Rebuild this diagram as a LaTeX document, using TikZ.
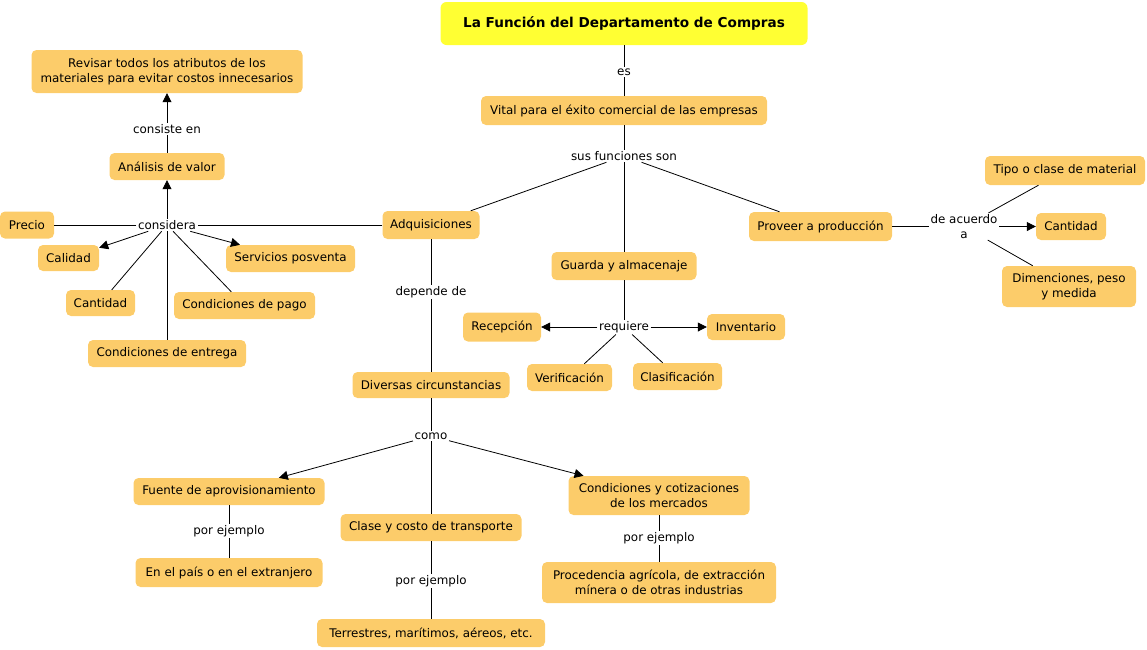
\documentclass[tikz,border=0pt]{standalone}
\usepackage{fontspec}
\setmainfont{DejaVu Sans}
\usetikzlibrary{arrows.meta}
\definecolor{boxfill}{RGB}{252,204,106}
\definecolor{titlefill}{RGB}{255,255,51}

\begin{document}
\begin{tikzpicture}[x=1pt, y=-1pt,
  concept/.style={rectangle, fill=boxfill, rounded corners=5pt, align=center,
    inner sep=0pt, font=\fontsize{11.9}{14.5}\selectfont},
  link/.style={rectangle, inner sep=1.5pt, align=center, font=\fontsize{11.9}{14.5}\selectfont},
  ln/.style={line width=0.8pt, draw=black},
  arr/.style={ln, -{Triangle[length=9pt,width=9pt]}}
]
\useasboundingbox (0,0) rectangle (1147,649);

% centre
\node[concept, fill=titlefill, rounded corners=6pt, minimum width=367, minimum height=43,
  font=\bfseries\fontsize{13.6}{16}\selectfont] (title) at (624,23.5) {La Función del Departamento de Compras};
\node[link] (es) at (624,72) {es};
\node[concept, minimum width=286, minimum height=29] (vital) at (624,110.5) {Vital para el éxito comercial de las empresas};
\node[link] (funciones) at (624,156) {sus funciones son};

\node[concept, minimum width=97, minimum height=28] (adq) at (431,225) {Adquisiciones};
\node[concept, minimum width=145, minimum height=28] (guarda) at (624,266) {Guarda y almacenaje};
\node[concept, minimum width=143, minimum height=29] (proveer) at (820.5,226.5) {Proveer a producción};

% proveer a produccion
\node[link] (acuerdo) at (964,226.5) {de acuerdo\\a};
\node[concept, minimum width=160, minimum height=29] (tipo) at (1065,170.5) {Tipo o clase de material};
\node[concept, minimum width=70, minimum height=27] (cantb) at (1071,226.5) {Cantidad};
\node[concept, minimum width=134, minimum height=41] (dimen) at (1069,286.5) {Dimenciones, peso\\y medida};

% guarda y almacenaje
\node[link] (requiere) at (624,327) {requiere};
\node[concept, minimum width=78, minimum height=29] (recep) at (502,327) {Recepción};
\node[concept, minimum width=78, minimum height=26] (invent) at (746,327) {Inventario};
\node[concept, minimum width=85, minimum height=27] (verif) at (569.5,377.5) {Verificación};
\node[concept, minimum width=89, minimum height=27] (clasif) at (677.5,376.5) {Clasificación};

% adquisiciones
\node[link] (depende) at (431,292) {depende de};
\node[concept, minimum width=157, minimum height=26] (diversas) at (431,385) {Diversas circunstancias};
\node[link] (como) at (431,436) {como};
\node[concept, minimum width=191, minimum height=27] (fuente) at (229,491.5) {Fuente de aprovisionamiento};
\node[link] (ejA) at (229,531) {por ejemplo};
\node[concept, minimum width=187, minimum height=29] (pais) at (229,572.5) {En el país o en el extranjero};
\node[concept, minimum width=181, minimum height=27] (clase) at (431,527.5) {Clase y costo de transporte};
\node[link] (ejB) at (431,581) {por ejemplo};
\node[concept, minimum width=228, minimum height=28] (terres) at (431,633) {Terrestres, marítimos, aéreos, etc.};
\node[concept, minimum width=181, minimum height=39] (condic) at (659,495.5) {Condiciones y cotizaciones\\de los mercados};
\node[link] (ejC) at (659,538) {por ejemplo};
\node[concept, minimum width=234, minimum height=41] (proced) at (659,582.5) {Procedencia agrícola, de extracción\\mínera o de otras industrias};

% analisis de valor
\node[concept, minimum width=271, minimum height=43] (revisar) at (167,71.5) {Revisar todos los atributos de los\\materiales para evitar costos innecesarios};
\node[link] (consiste) at (167,129) {consiste en};
\node[concept, minimum width=115, minimum height=27] (analisis) at (167,166.5) {Análisis de valor};
\node[link] (considera) at (167,225) {considera};
\node[concept, minimum width=54, minimum height=27] (precio) at (27,225) {Precio};
\node[concept, minimum width=61, minimum height=26] (calidad) at (68.5,258) {Calidad};
\node[concept, minimum width=129, minimum height=27] (servicios) at (290.5,258.5) {Servicios posventa};
\node[concept, minimum width=69, minimum height=26] (cantidad) at (100.5,303) {Cantidad};
\node[concept, minimum width=141, minimum height=27] (pago) at (244.5,305.5) {Condiciones de pago};
\node[concept, minimum width=158, minimum height=27] (entrega) at (167,353.5) {Condiciones de entrega};

\draw[ln] (title) -- (es);
\draw[ln] (es) -- (vital);
\draw[ln] (vital) -- (funciones);
\draw[ln] (funciones) -- (adq);
\draw[ln] (funciones) -- (guarda);
\draw[ln] (funciones) -- (proveer);

\draw[ln] (proveer) -- (acuerdo);
\draw[ln] (acuerdo) -- (tipo);
\draw[arr] (acuerdo) -- (cantb);
\draw[ln] (acuerdo) -- (dimen);

\draw[ln] (guarda) -- (requiere);
\draw[arr] (requiere) -- (recep);
\draw[arr] (requiere) -- (invent);
\draw[ln] (requiere) -- (verif);
\draw[ln] (requiere) -- (clasif);

\draw[ln] (adq) -- (depende);
\draw[ln] (depende) -- (diversas);
\draw[ln] (diversas) -- (como);
\draw[arr] (como) -- (fuente);
\draw[ln] (como) -- (clase);
\draw[arr] (como) -- (condic);
\draw[ln] (fuente) -- (ejA);
\draw[ln] (ejA) -- (pais);
\draw[ln] (clase) -- (ejB);
\draw[ln] (ejB) -- (terres);
\draw[ln] (condic) -- (ejC);
\draw[ln] (ejC) -- (proced);

\draw[ln] (adq) -- (considera);
\draw[ln] (considera) -- (precio);
\draw[arr] (considera) -- (calidad);
\draw[arr] (considera) -- (servicios);
\draw[ln] (considera) -- (cantidad);
\draw[ln] (considera) -- (pago);
\draw[ln] (considera) -- (entrega);
\draw[arr] (considera) -- (analisis);
\draw[ln] (analisis) -- (consiste);
\draw[arr] (consiste) -- (revisar);

\end{tikzpicture}
\end{document}
